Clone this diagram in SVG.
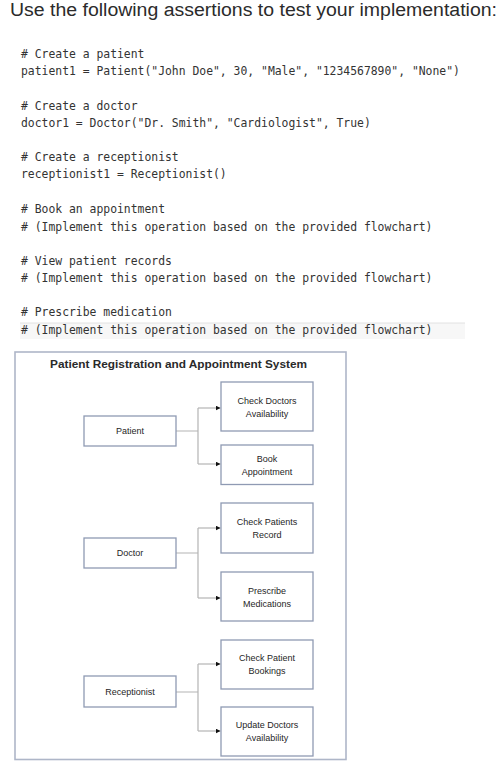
<svg xmlns="http://www.w3.org/2000/svg" width="504" height="775" viewBox="0 0 504 775">
<style>
.code{font-family:"DejaVu Sans Mono","Liberation Mono",monospace;font-size:11.4px;fill:#333;}
.box{fill:#fff;stroke:#8f9ab3;stroke-width:1.3;}
.lbl{font-family:"Liberation Sans",Arial,sans-serif;font-size:9px;fill:#262626;text-anchor:middle;}
.conn{fill:none;stroke:#b4b4b4;stroke-width:1.2;}
</style>
<defs>
<marker id="ah" viewBox="0 0 6 6" refX="6" refY="3" markerWidth="5" markerHeight="5" markerUnits="userSpaceOnUse" orient="auto">
<path d="M0,0 L6,3 L0,6 Z" fill="#111"/>
</marker>
</defs>
<rect width="504" height="775" fill="#fff"/>
<text x="10" y="16" font-family="'Liberation Sans',Arial,sans-serif" font-size="18" fill="#2b2b2b" textLength="487" lengthAdjust="spacingAndGlyphs">Use the following assertions to test your implementation:</text>
<g id="code">
<rect x="20" y="323" width="445" height="16" fill="#f7f7f7"/>
<line x1="20" y1="323" x2="465" y2="323" stroke="#e2e2e2" stroke-width="1"/>
<text class="code" x="21" y="58"># Create a patient</text>
<text class="code" x="21" y="75">patient1 = Patient("John Doe", 30, "Male", "1234567890", "None")</text>
<text class="code" x="21" y="110"># Create a doctor</text>
<text class="code" x="21" y="127">doctor1 = Doctor("Dr. Smith", "Cardiologist", True)</text>
<text class="code" x="21" y="161"># Create a receptionist</text>
<text class="code" x="21" y="178">receptionist1 = Receptionist()</text>
<text class="code" x="21" y="213"># Book an appointment</text>
<text class="code" x="21" y="231"># (Implement this operation based on the provided flowchart)</text>
<text class="code" x="21" y="265"># View patient records</text>
<text class="code" x="21" y="282"># (Implement this operation based on the provided flowchart)</text>
<text class="code" x="21" y="316"># Prescribe medication</text>
<text class="code" x="21" y="334"># (Implement this operation based on the provided flowchart)</text>
</g>
<g id="frame">
<rect x="15" y="352" width="331" height="407.5" fill="#fff" stroke="#aeb6c8" stroke-width="1.6"/>
<text x="50" y="368" font-family="'Liberation Sans',Arial,sans-serif" font-size="11.5" font-weight="bold" fill="#2a2a2a" textLength="257" lengthAdjust="spacingAndGlyphs">Patient Registration and Appointment System</text>
</g>
<g id="connectors">
<path class="conn" d="M176,431 H198 M198,408 V464"/>
<path class="conn" d="M198,408 H220.5" marker-end="url(#ah)"/>
<path class="conn" d="M198,464 H220.5" marker-end="url(#ah)"/>
<path class="conn" d="M176,553 H198 M198,528 V598"/>
<path class="conn" d="M198,528 H220.5" marker-end="url(#ah)"/>
<path class="conn" d="M198,598 H220.5" marker-end="url(#ah)"/>
<path class="conn" d="M176,692 H198 M198,664 V731"/>
<path class="conn" d="M198,664 H220.5" marker-end="url(#ah)"/>
<path class="conn" d="M198,731 H220.5" marker-end="url(#ah)"/>
</g>
<g id="patient"><rect class="box" x="84" y="416" width="92" height="30"/><text class="lbl" x="130" y="434">Patient</text></g>
<g id="doctor"><rect class="box" x="84" y="538" width="92" height="30"/><text class="lbl" x="130" y="556">Doctor</text></g>
<g id="receptionist"><rect class="box" x="84" y="676" width="92" height="31"/><text class="lbl" x="130" y="694.5">Receptionist</text></g>
<g id="check-doctors-availability"><rect class="box" x="221" y="382" width="92" height="49"/><text class="lbl" x="267" y="403.5">Check Doctors</text><text class="lbl" x="267" y="416.5">Availability</text></g>
<g id="book-appointment"><rect class="box" x="221" y="445" width="92" height="39.5"/><text class="lbl" x="267" y="462">Book</text><text class="lbl" x="267" y="475">Appointment</text></g>
<g id="check-patients-record"><rect class="box" x="221" y="503" width="92" height="50"/><text class="lbl" x="267" y="524.5">Check Patients</text><text class="lbl" x="267" y="537.5">Record</text></g>
<g id="prescribe-medications"><rect class="box" x="221" y="572" width="92" height="49"/><text class="lbl" x="267" y="593.5">Prescribe</text><text class="lbl" x="267" y="606.5">Medications</text></g>
<g id="check-patient-bookings"><rect class="box" x="221" y="640" width="92" height="49"/><text class="lbl" x="267" y="661">Check Patient</text><text class="lbl" x="267" y="674">Bookings</text></g>
<g id="update-doctors-availability"><rect class="box" x="221" y="707" width="92" height="49"/><text class="lbl" x="267" y="728">Update Doctors</text><text class="lbl" x="267" y="741">Availability</text></g>
</svg>
